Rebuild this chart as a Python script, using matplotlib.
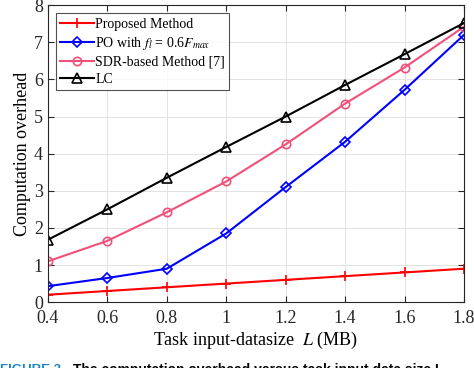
import matplotlib.pyplot as plt

L = [0.4, 0.6, 0.8, 1.0, 1.2, 1.4, 1.6, 1.8]
proposed = [0.2, 0.3, 0.4, 0.5, 0.6, 0.7, 0.8, 0.9]
po = [0.43, 0.65, 0.9, 1.85, 3.1, 4.32, 5.72, 7.2]
sdr = [1.1, 1.65, 2.42, 3.25, 4.25, 5.35, 6.32, 7.42]
lc = [1.68, 2.5, 3.35, 4.18, 5.0, 5.85, 6.68, 7.52]
xticks = [0.4, 0.6, 0.8, 1, 1.2, 1.4, 1.6, 1.8]
xticklabels = ['0.4', '0.6', '0.8', '1', '1.2', '1.4', '1.6', '1.8']

plt.rcParams['font.family'] = ['Liberation Serif', 'DejaVu Serif']
plt.rcParams['mathtext.fontset'] = 'stix'

fig = plt.figure(figsize=(4.74, 3.68), dpi=100)
ax = fig.add_axes([0.101, 0.179, 0.878, 0.807])

ax.plot(L, proposed, color='#ff0000', marker='+', ms=7, mew=1.2, lw=1.5, label='Proposed Method')
ax.plot(L, po, color='#0000ff', marker='D', ms=5, mfc='none', mew=1.2, lw=1.5,
        label=r'PO with $f_l$ = 0.6$F_{max}$')
ax.plot(L, sdr, color='#f0507a', marker='o', ms=6, mfc='none', mew=1.2, lw=1.5,
        label='SDR-based Method [7]')
ax.plot(L, lc, color='black', marker='^', ms=7, mfc='none', mew=1.2, lw=1.5, label='LC')

ax.set_xlim(0.4, 1.8)
ax.set_ylim(0, 8)
ax.set_xticks(xticks)
ax.set_xticklabels(xticklabels)
ax.set_yticks(range(0, 9))
ax.tick_params(direction='in', labelsize=13, length=4, top=True, right=True, colors='#262626')
ax.tick_params(axis='x', pad=6)
ax.grid(True, color='#e3e3e3', lw=0.7)
for s in ax.spines.values():
    s.set_color('#262626')
    s.set_linewidth(0.8)

ax.set_xlabel(r'Task input-datasize  $L$ (MB)', fontsize=13, labelpad=2)
ax.set_ylabel('Computation overhead', fontsize=13, labelpad=2)

leg = ax.legend(loc='upper left', fontsize=10, frameon=True, fancybox=False,
                borderpad=0.3, labelspacing=0.3, handlelength=2.4, handletextpad=0.1,
                borderaxespad=0.6)
leg.get_frame().set_edgecolor('#262626')
leg.get_frame().set_linewidth(0.8)

# caption cut off at the bottom of the picture
fig.text(0.0, -0.006, 'FIGURE 3.', color='#1f86c4', fontsize=9.5, fontweight='bold',
         family='Liberation Sans', va='center')
fig.text(0.154, -0.006, 'The computation overhead versus task input data size L',
         color='black', fontsize=10, fontweight='bold', family='Liberation Sans', va='center')

fig.savefig('out.png', dpi=100)
